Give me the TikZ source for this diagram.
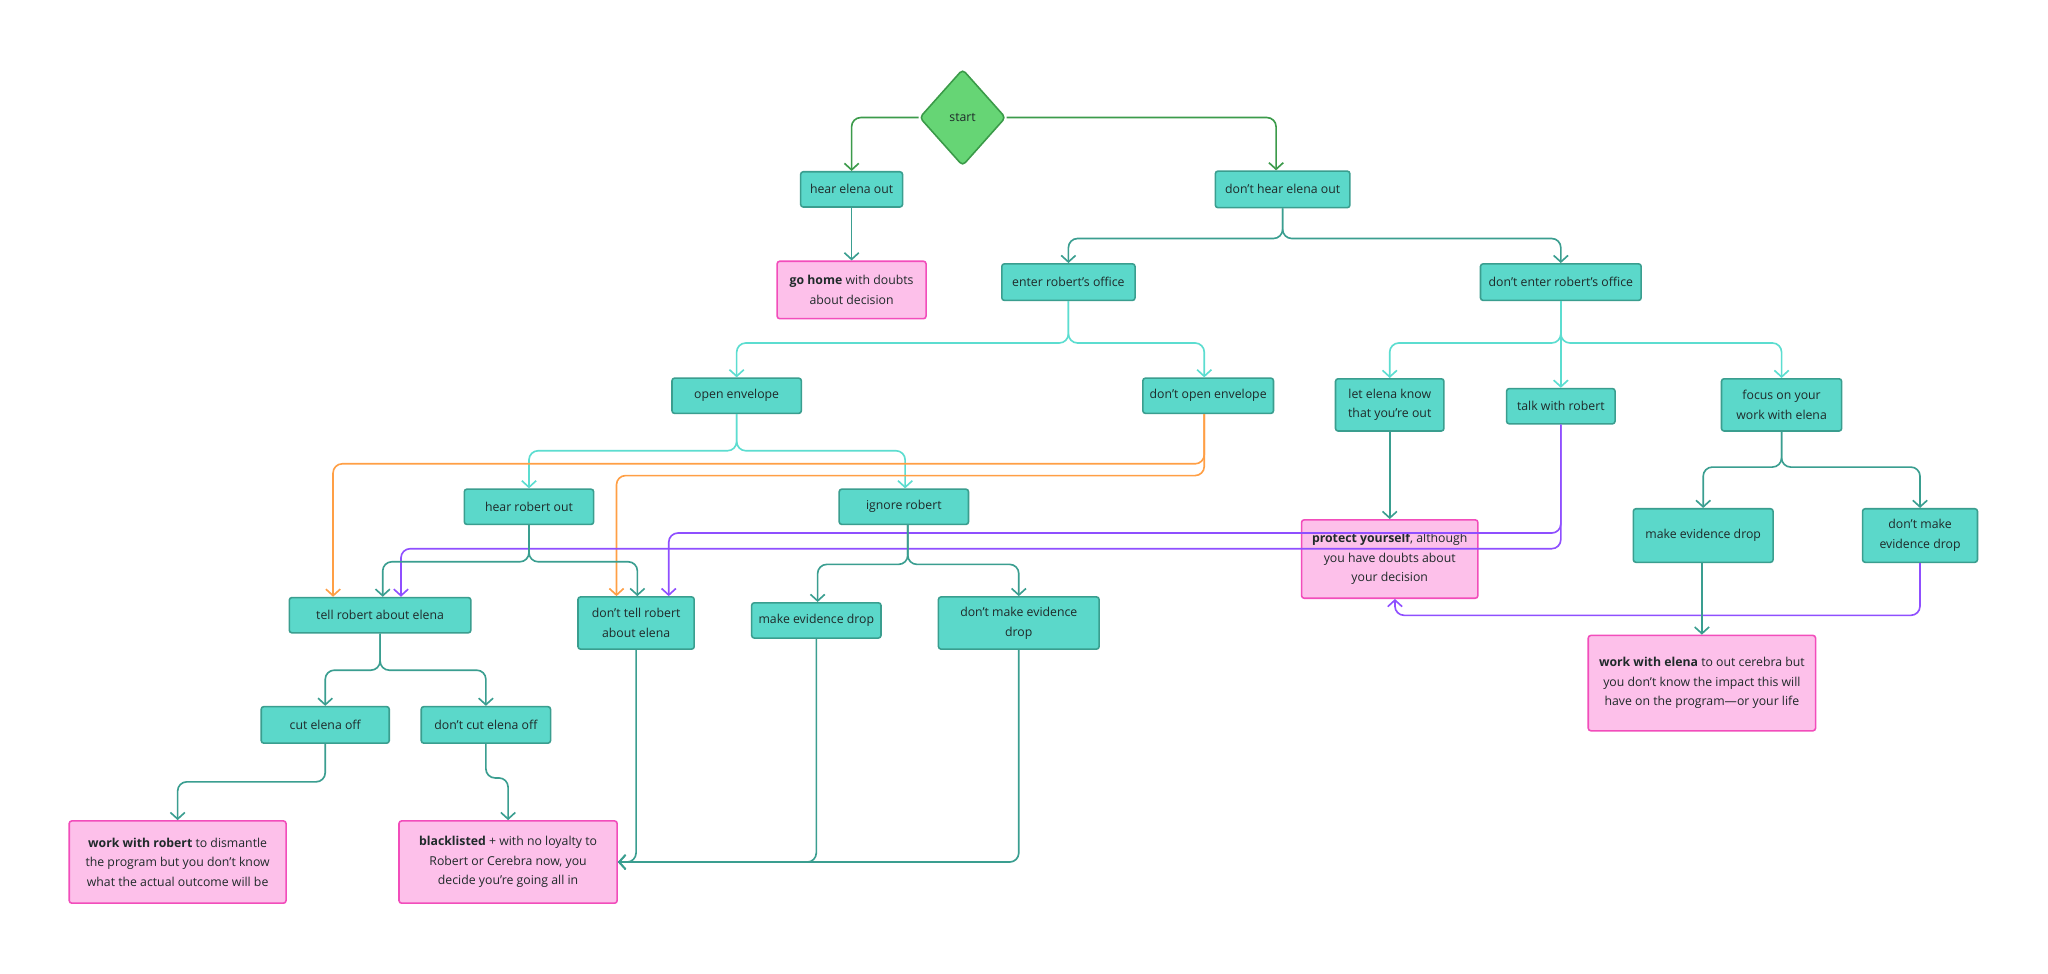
\documentclass[tikz,border=0pt]{standalone}
\usepackage{fontspec}
\setmainfont{Open Sans}
\usetikzlibrary{arrows.meta,shapes.geometric,calc}
\definecolor{tealfill}{HTML}{5BD8CA}
\definecolor{tealdraw}{HTML}{3A9E8F}
\definecolor{pinkfill}{HTML}{FDC0EA}
\definecolor{pinkdraw}{HTML}{F24DBB}
\definecolor{greenfill}{HTML}{66D575}
\definecolor{greendraw}{HTML}{3A9A48}
\definecolor{darkcon}{HTML}{3A9E90}
\definecolor{lightcon}{HTML}{5CDDD0}
\definecolor{orangecon}{HTML}{FF9F45}
\definecolor{purplecon}{HTML}{8F4FFF}
\definecolor{greencon}{HTML}{3C9B4B}
\definecolor{txt}{HTML}{1F2A2A}
\tikzset{
  box/.style={rectangle, rounded corners=2pt, line width=1.2pt, align=center, inner sep=0pt, text=txt,
    font=\fontsize{9.4}{15}\selectfont},
  tb/.style={box, fill=tealfill, draw=tealdraw},
  pb/.style={box, fill=pinkfill, draw=pinkdraw},
  con/.style={line width=1.25pt, rounded corners=7pt, -{Straight Barb[length=5pt,width=11pt]}},
}
\begin{document}
\begin{tikzpicture}[x=1pt,y=-1pt]
\fill[white] (0,0) rectangle (1568,745);
\useasboundingbox (0,0) rectangle (1568,745);

\node[diamond, fill=greenfill, draw=greendraw, line width=1.2pt, rounded corners=3pt, inner sep=0pt,
  minimum width=66, minimum height=74, text=txt, font=\fontsize{9.4}{15}\selectfont] (start) at (737,90) {start};

\node[tb, minimum width=78, minimum height=27] (heo) at (652,145) {hear elena out};
\node[tb, minimum width=103, minimum height=28] (dheo) at (982,145) {don’t hear elena out};
\node[pb, minimum width=114, minimum height=44] (gohome) at (652,222) {\textbf{go home} with doubts\\about decision};
\node[tb, minimum width=102, minimum height=28] (ero) at (818,216) {enter robert’s office};
\node[tb, minimum width=123, minimum height=28] (dero) at (1195,216) {don’t enter robert’s office};
\node[tb, minimum width=99, minimum height=27] (oe) at (564,303) {open envelope};
\node[tb, minimum width=100, minimum height=27] (doe) at (925,303) {don’t open envelope};
\node[tb, minimum width=83, minimum height=40] (lek) at (1064,310) {let elena know\\that you’re out};
\node[tb, minimum width=83, minimum height=27] (twr) at (1195,311) {talk with robert};
\node[tb, minimum width=92, minimum height=40] (fwe) at (1364,310) {focus on your\\work with elena};
\node[tb, minimum width=99, minimum height=27] (hro) at (405,388) {hear robert out};
\node[tb, minimum width=99, minimum height=27] (ir) at (692,388) {ignore robert};
\node[pb, minimum width=135, minimum height=60] (py) at (1064,428) {\textbf{protect yourself}, although\\you have doubts about\\your decision};
\node[tb, minimum width=107, minimum height=41] (medR) at (1304,410) {make evidence drop};
\node[tb, minimum width=88, minimum height=41] (dmedR) at (1470,410) {don’t make\\evidence drop};
\node[tb, minimum width=139, minimum height=27] (tra) at (291,471) {tell robert about elena};
\node[tb, minimum width=89, minimum height=40] (dtra) at (487,477) {don’t tell robert\\about elena};
\node[tb, minimum width=99, minimum height=27] (medM) at (625,475) {make evidence drop};
\node[tb, minimum width=123, minimum height=40] (dmedM) at (780,477) {don’t make evidence\\drop};
\node[pb, minimum width=174, minimum height=73] (wwe) at (1303,523) {\textbf{work with elena} to out cerebra but\\you don’t know the impact this will\\have on the program—or your life};
\node[tb, minimum width=98, minimum height=28] (ceo) at (249,555) {cut elena off};
\node[tb, minimum width=99, minimum height=28] (dceo) at (372,555) {don’t cut elena off};
\node[pb, minimum width=166, minimum height=63] (wwr) at (136,660) {\textbf{work with robert} to dismantle\\the program but you don’t know\\what the actual outcome will be};
\node[pb, minimum width=167, minimum height=63] (bl) at (389,660) {\textbf{blacklisted} + with no loyalty to\\Robert or Cerebra now, you\\decide you’re going all in};

% green
\draw[con, greencon] (start.west) -| (heo.north);
\draw[con, greencon] (start.east) -| ([xshift=-5pt]dheo.north);
% dark teal
\draw[con, darkcon] (heo.south) -- (gohome.north);
\draw[con, darkcon] (dheo.south) -- ([yshift=-23pt]dheo.south) -| (ero.north);
\draw[con, darkcon] (dheo.south) -- ([yshift=-23pt]dheo.south) -| (dero.north);
% light teal
\draw[con, lightcon] (ero.south) -- ([yshift=-32pt]ero.south) -| (oe.north);
\draw[con, lightcon] (ero.south) -- ([yshift=-32pt]ero.south) -| ([xshift=-3pt]doe.north);
\draw[con, lightcon] (dero.south) -- ([yshift=-32pt]dero.south) -| (lek.north);
\draw[con, lightcon] (dero.south) -- (twr.north);
\draw[con, lightcon] (dero.south) -- ([yshift=-32pt]dero.south) -| (fwe.north);
\draw[con, lightcon] (oe.south) -- ([yshift=-28pt]oe.south) -| (hro.north);
\draw[con, lightcon] (oe.south) -- ([yshift=-28pt]oe.south) -| ([xshift=1pt]ir.north);
% orange
\draw[con, orangecon] ([xshift=-3pt]doe.south) -- ([xshift=-3pt,yshift=-38pt]doe.south) -| ([xshift=-36pt]tra.north);
\draw[con, orangecon] ([xshift=-3pt]doe.south) -- ([xshift=-3pt,yshift=-47pt]doe.south) -| ([xshift=-15pt]dtra.north);
% purple
\draw[con, purplecon] (twr.south) -- ([yshift=-83pt]twr.south) -| ([xshift=25pt]dtra.north);
\draw[con, purplecon] (twr.south) -- ([yshift=-95pt]twr.south) -| ([xshift=16pt]tra.north);
\draw[con, purplecon] (dmedR.south) -- ([yshift=-40pt]dmedR.south) -| ([xshift=4pt]py.south);
% dark teal lower
\draw[con, darkcon] (hro.south) -- ([yshift=-28pt]hro.south) -| ([xshift=2pt]tra.north);
\draw[con, darkcon] (hro.south) -- ([yshift=-28pt]hro.south) -| ([xshift=1pt]dtra.north);
\draw[con, darkcon] ([xshift=3pt]ir.south) -- ([xshift=3pt,yshift=-30pt]ir.south) -| ([xshift=1pt]medM.north);
\draw[con, darkcon] ([xshift=3pt]ir.south) -- ([xshift=3pt,yshift=-30pt]ir.south) -| (dmedM.north);
\draw[con, darkcon] (lek.south) -- (py.north);
\draw[con, darkcon] (fwe.south) -- ([yshift=-27pt]fwe.south) -| (medR.north);
\draw[con, darkcon] (fwe.south) -- ([yshift=-27pt]fwe.south) -| (dmedR.north);
\draw[con, darkcon] ([xshift=-1pt]medR.south) -- ([xshift=-1pt]medR.south |- wwe.north);
\draw[con, darkcon] (tra.south) -- ([yshift=-28pt]tra.south) -| (ceo.north);
\draw[con, darkcon] (tra.south) -- ([yshift=-28pt]tra.south) -| (dceo.north);
\draw[con, darkcon] (ceo.south) -- ([yshift=-29pt]ceo.south) -| (wwr.north);
\draw[con, darkcon] (dceo.south) -- ([yshift=-26pt]dceo.south) -| (bl.north);
\draw[con, darkcon] (dtra.south) |- (bl.east);
\draw[con, darkcon] (medM.south) |- (bl.east);
\draw[con, darkcon] (dmedM.south) |- (bl.east);
\end{tikzpicture}
\end{document}
